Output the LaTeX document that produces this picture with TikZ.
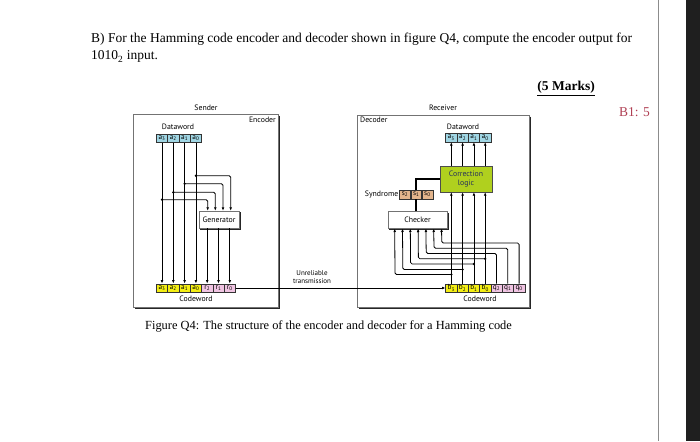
\documentclass[tikz,border=0pt]{standalone}
\usepackage{fontspec}
\setmainfont{Liberation Serif}
\newfontfamily\diagfont{PT Sans}
\usetikzlibrary{arrows.meta,positioning}
\definecolor{datablue}{RGB}{160,214,228}
\definecolor{codeyellow}{RGB}{244,238,20}
\definecolor{parpink}{RGB}{240,196,226}
\definecolor{syntan}{RGB}{226,180,140}
\definecolor{corrgreen}{RGB}{176,208,30}
\definecolor{marksred}{RGB}{176,64,84}
\definecolor{corrtext}{RGB}{40,50,90}

\begin{document}
\begin{tikzpicture}[x=1pt,y=-1pt,>={Latex[length=3.4pt,width=2.8pt]},
  frame/.style={draw=black!55,line width=0.6pt,fill=white,inner sep=0pt},
  shade/.style={black!85,line width=1.5pt},
  unit/.style={frame,font=\diagfont\fontsize{7.8}{9}\selectfont,text=black},
  cell/.style={draw=black!80,line width=0.5pt,minimum width=11.3pt,minimum height=8.5pt,
    inner sep=0pt,font=\diagfont\fontsize{7.3}{7}\selectfont},
  lbl/.style={font=\diagfont\fontsize{7.8}{9}\selectfont,inner sep=0pt,text=black},
  wire/.style={black,line width=0.8pt},
  bus/.style={black,line width=1.6pt},
  dot/.style={circle,fill=black,inner sep=0pt,minimum size=2.6pt},
  doc/.style={inner sep=0pt,font=\fontsize{13.5}{16}\selectfont}]
\useasboundingbox (0,0) rectangle (700,441);
\fill[white] (0,0) rectangle (700,441);
\draw[black!45,line width=0.8pt] (658,0) -- (658,441);
\fill[black!88] (686,0) rectangle (700,441);

\node[doc,anchor=base west] (qline1) at (91,43)
  {B) For the Hamming code encoder and decoder shown in figure Q4, compute the encoder output for};
\node[doc,anchor=base west] (qline2) at (91,60) {1010\textsubscript{2} input.};
\node[doc,anchor=base east] (marks) at (595,91) {\underline{\textbf{(5 Marks)}}};
\node[doc,anchor=base east,text=marksred] (score) at (650,117) {B1: 5};

\node[frame,minimum width=145pt,minimum height=193pt] (encbox) at (205.5,210.5) {};
\node[frame,minimum width=172pt,minimum height=192pt] (decbox) at (443,211) {};
\draw[shade] ([shift={(1,2)}]encbox.north east) -- ([shift={(1,1)}]encbox.south east)
  -- ([shift={(2,1)}]encbox.south west);
\draw[shade] ([shift={(1,2)}]decbox.north east) -- ([shift={(1,1)}]decbox.south east)
  -- ([shift={(2,1)}]decbox.south west);
\node[lbl] (sender) at (206,108) {Sender};
\node[lbl,anchor=north east] (enclbl) at (276,116.5) {Encoder};
\node[lbl] (receiver) at (443,108) {Receiver};
\node[lbl,anchor=north west] (declbl) at (360,116.5) {Decoder};

\foreach \n [count=\i from 0] in {3,2,1,0}{
  \node[cell,fill=datablue] (sd\i) at ({162+11.3*\i},138) {a\textsubscript{\n}};
  \node[cell,fill=codeyellow] (sc\i) at ({162+11.3*\i},288) {a\textsubscript{\n}};
  \node[cell,fill=datablue] (rd\i) at ({451.3+11.3*\i},137.7) {a\textsubscript{\n}};
  \node[cell,fill=codeyellow] (rc\i) at ({451.3+11.3*\i},288) {b\textsubscript{\n}};
}
\foreach \n [count=\i from 4] in {2,1,0}{
  \node[cell,fill=parpink] (sc\i) at ({162+11.3*\i},288) {r\textsubscript{\n}};
  \node[cell,fill=parpink] (rc\i) at ({451.3+11.3*\i},288) {q\textsubscript{\n}};
}
\node[lbl] (sdlbl) at (178,127) {Dataword};
\node[lbl] (sclbl) at (196,299) {Codeword};
\node[lbl] (rdlbl) at (463,127) {Dataword};
\node[lbl] (rclbl) at (480,299) {Codeword};

\node[unit,minimum width=40pt,minimum height=17pt] (gen) at (219,219.5) {Generator};
\node[unit,minimum width=59pt,minimum height=16.6pt] (chk) at (417.5,220) {Checker};
\draw[shade,line width=1.2pt] ([shift={(0.9,1.5)}]gen.north east) -- ([shift={(0.9,0.9)}]gen.south east)
  -- ([shift={(1.5,0.9)}]gen.south west);
\draw[shade,line width=1.2pt] ([shift={(0.9,1.5)}]chk.north east) -- ([shift={(0.9,0.9)}]chk.south east)
  -- ([shift={(1.5,0.9)}]chk.south west);
\node[draw=black!70,line width=0.5pt,fill=corrgreen,minimum width=52pt,minimum height=26pt,
  align=center,font=\diagfont\fontsize{7.8}{9}\selectfont,text=corrtext] (corr) at (466,179)
  {Correction\\logic};
\foreach \n [count=\i from 0] in {2,1,0}
  \node[cell,fill=syntan,minimum width=10.8pt,minimum height=9pt] (sy\i) at ({405+11.2*\i},194.5)
    {s\textsubscript{\n}};
\node[lbl,anchor=east] (sylbl) at (398.5,194.5) {Syndrome};
\node[lbl,align=center,font=\diagfont\fontsize{7}{8.5}\selectfont] (chan) at (312,277)
  {Unreliable\\transmission};

\foreach \i in {0,...,3}
  \draw[wire,->] (sd\i.south) -- (sc\i.north);
\foreach \i/\y/\dx in {0/199.7/-11.3,1/192.3/-3.7,2/183.7/4,3/175.7/11.7}{
  \node[dot] (tap\i) at ({162+11.3*\i},\y) {};
  \draw[wire,->,rounded corners=1.5pt] (tap\i.center) -| ([xshift=\dx pt]gen.north);
}
\foreach \i in {4,5,6}
  \draw[wire,->] (sc\i.north |- gen.south) -- (sc\i.north);
\draw[wire,->] (sc6.east) -- (rc0.west);

\foreach \i in {0,...,3}{
  \draw[wire,->] (rc\i.north) -- (rc\i.north |- corr.south);
  \draw[wire,->] (rc\i.north |- corr.north) -- (rd\i.south);
}
\foreach \i/\y in {0/274.5,1/269.5,2/264,3/258.8}{
  \node[dot] (ctap\i) at ({451.3+11.3*\i},\y) {};
  \draw[wire,->,rounded corners=1.5pt] (ctap\i.center) -- ({395+7.8*\i},\y)
    -- ([xshift={7pt+7.8pt*\i}]chk.south west);
}
\foreach \i/\y in {4/253.5,5/248.3,6/243}
  \draw[wire,->,rounded corners=1.5pt] (rc\i.north) |- ({395+7.8*\i},\y)
    -- ([xshift={7pt+7.8pt*\i}]chk.south west);
\draw[bus] (sy1.south |- chk.north) -- (sy1.south);
\draw[bus] (sy1.north) |- (corr.west);

\node[doc,anchor=base west,font=\fontsize{12.4}{14}\selectfont] (caption) at (145,329)
  {Figure Q4: The structure of the encoder and decoder for a Hamming code};
\end{tikzpicture}
\end{document}
